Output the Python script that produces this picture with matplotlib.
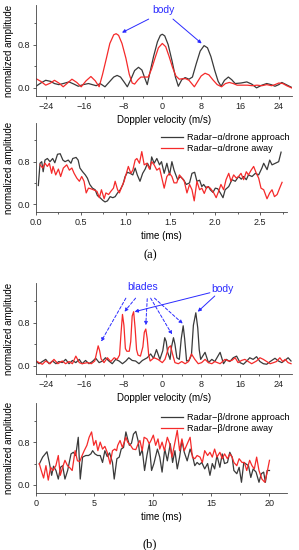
import numpy as np
import matplotlib
matplotlib.use("Agg")
import matplotlib.pyplot as plt
from matplotlib.ticker import MultipleLocator

plt.rcParams['font.family'] = ['Liberation Sans', 'DejaVu Sans']
plt.rcParams['font.size'] = 7

# ---- (a) Radar-alpha: Doppler spectrum ----
va_x = [-26.0, -25.0, -24.0, -23.0, -22.2, -21.3, -20.4, -19.5, -18.6, -17.6, -16.7, -15.7, -14.7,
        -13.8, -13.0, -12.3, -11.5, -10.8, -10.0, -9.5, -9.0, -8.3, -7.5, -6.8, -6.2, -5.7, -5.0,
        -4.4, -3.5, -2.9, -2.2, -1.5, -0.8, 0.0, 0.7, 1.4, 2.1, 2.8, 3.5, 4.2, 4.8, 5.5, 6.6, 7.3,
        8.0, 8.8, 9.6, 10.4, 11.3, 12.2, 13.0, 13.8, 14.6, 15.4, 16.5, 17.5, 18.5, 19.5, 20.5, 21.5,
        22.5, 23.2, 24.0, 24.8, 25.6, 26.6]
va_red = [0.17, 0.12, 0.05, 0.09, 0.14, 0.09, 0.02, 0.09, 0.16, 0.10, 0.02, 0.13, 0.21,
          0.13, 0.02, 0.25, 0.55, 0.82, 0.98, 1.0, 0.97, 0.82, 0.55, 0.25, 0.09, 0.07, 0.15,
          0.2, 0.2, 0.2, 0.35, 0.55, 0.74, 0.82, 0.76, 0.58, 0.38, 0.22, 0.16, 0.17, 0.17, 0.14,
          0.02, 0.12, 0.22, 0.27, 0.24, 0.15, 0.06, 0.02, 0.08, 0.1, 0.08, 0.05, 0.05, 0.05, 0.04,
          0.05, 0.04, 0.06, 0.04, 0.06, 0.09, 0.08, 0.04, 0.0]

vb_x = [-26.0, -25.0, -24.0, -23.0, -22.2, -21.3, -20.4, -19.2, -18.2, -17.3, -16.3, -15.2, -14.4,
        -13.6, -12.8, -12.3, -11.8, -11.0, -10.0, -9.3, -8.6, -7.8, -7.2, -6.5, -5.7, -4.9, -4.2,
        -3.6, -3.1, -2.5, -1.8, -1.0, -0.4, 0.0, 0.5, 1.2, 2.0, 2.7, 3.3, 4.0, 4.7, 5.5, 6.2, 7.0,
        7.8, 8.6, 9.3, 10.0, 10.8, 11.5, 12.1, 12.8, 13.6, 14.3, 15.0, 16.2, 17.4, 18.4, 19.4,
        20.5, 21.5, 22.4, 23.2, 24.0, 24.6, 25.5, 26.6]
va_black = [0.03, 0.09, 0.14, 0.12, 0.08, 0.06, 0.08, 0.11, 0.07, 0.03, 0.06, 0.08, 0.06,
            0.04, 0.08, 0.05, 0.02, 0.1, 0.2, 0.23, 0.2, 0.1, 0.02, 0.15, 0.32, 0.38, 0.33,
            0.18, 0.06, 0.3, 0.58, 0.85, 0.97, 0.99, 0.96, 0.8, 0.5, 0.2, 0.03, 0.15, 0.19, 0.16,
            0.2, 0.45, 0.68, 0.78, 0.74, 0.58, 0.32, 0.12, 0.03, 0.14, 0.2, 0.15, 0.08, 0.09,
            0.11, 0.07, 0.0, 0.05, 0.08, 0.06, 0.03, 0.06, 0.1, 0.06, 0.01]

# ---- (a) Radar-alpha: time series ----
ta_black = [0.026, 0.045, 0.064, 0.08, 0.10, 0.127, 0.156, 0.186, 0.21, 0.24, 0.27, 0.30, 0.324,
            0.36, 0.39, 0.41, 0.447, 0.47, 0.49, 0.52, 0.55, 0.573, 0.60, 0.63, 0.66, 0.685, 0.715,
            0.745, 0.77, 0.797, 0.827, 0.857, 0.883, 0.91, 0.94, 0.97, 0.994, 1.02, 1.05, 1.08,
            1.106, 1.13, 1.16, 1.19, 1.218, 1.244, 1.274, 1.29, 1.318, 1.348, 1.378, 1.40, 1.43,
            1.46, 1.49, 1.516, 1.54, 1.553, 1.58, 1.61, 1.646, 1.676, 1.713, 1.74, 1.77, 1.795,
            1.825, 1.85, 1.87, 1.90, 1.925, 1.944, 1.974, 2.0, 2.026, 2.056, 2.086, 2.11, 2.15,
            2.186, 2.223, 2.26, 2.29, 2.316, 2.346, 2.37, 2.41, 2.447, 2.484, 2.52, 2.54, 2.578,
            2.607, 2.633, 2.67, 2.707, 2.734]
a_black = [0.35, 0.77, 0.80, 0.61, 0.83, 0.86, 0.80, 0.86, 0.78, 0.94, 0.95, 0.83, 0.80,
           0.83, 0.77, 0.86, 0.88, 0.83, 0.68, 0.61, 0.55, 0.49, 0.37, 0.30, 0.27, 0.16, 0.12,
           0.07, 0.04, 0.06, 0.14, 0.12, 0.14, 0.21, 0.27, 0.37, 0.52, 0.60, 0.58, 0.55,
           0.68, 0.55, 0.43, 0.58, 0.66, 0.77, 0.66, 0.89, 0.77, 0.86, 0.74, 0.80, 0.58,
           0.77, 0.55, 0.80, 0.64, 0.58, 0.46, 0.52, 0.46, 0.37, 0.40, 0.58, 0.60, 0.43,
           0.45, 0.33, 0.37, 0.30, 0.33, 0.27, 0.22, 0.30, 0.29, 0.21, 0.12, 0.27, 0.33,
           0.46, 0.43, 0.52, 0.47, 0.52, 0.46, 0.55, 0.52, 0.58, 0.55, 0.68, 0.77, 0.65,
           0.83, 0.74, 0.77, 0.80, 0.98]

ta_red = [0.045, 0.075, 0.10, 0.127, 0.149, 0.175, 0.19, 0.22, 0.25, 0.275, 0.305, 0.343, 0.372,
          0.40, 0.425, 0.455, 0.484, 0.51, 0.536, 0.56, 0.585, 0.61, 0.64, 0.68, 0.707, 0.73,
          0.76, 0.78, 0.81, 0.835, 0.864, 0.883, 0.91, 0.93, 0.957, 0.983, 1.013, 1.03, 1.058,
          1.08, 1.106, 1.125, 1.154, 1.18, 1.207, 1.236, 1.266, 1.29, 1.318, 1.348, 1.378, 1.40,
          1.43, 1.46, 1.49, 1.516, 1.54, 1.57, 1.60, 1.628, 1.654, 1.684, 1.713, 1.74, 1.765,
          1.795, 1.825, 1.85, 1.877, 1.907, 1.944, 1.98, 2.01, 2.037, 2.063, 2.093, 2.12, 2.15,
          2.175, 2.205, 2.235, 2.26, 2.287, 2.316, 2.346, 2.37, 2.40, 2.428, 2.458, 2.484, 2.51,
          2.54, 2.577, 2.607, 2.633, 2.66, 2.69, 2.718, 2.745]
a_red = [0.74, 0.68, 0.77, 0.71, 0.77, 0.58, 0.71, 0.55, 0.66, 0.52, 0.68, 0.74, 0.64,
         0.68, 0.58, 0.49, 0.43, 0.52, 0.43, 0.21, 0.30, 0.29, 0.27, 0.24, 0.12, 0.27,
         0.10, 0.21, 0.18, 0.24, 0.30, 0.43, 0.27, 0.21, 0.33, 0.43, 0.61, 0.71, 0.58,
         0.64, 0.83, 0.86, 0.77, 0.99, 0.74, 0.77, 0.66, 0.80, 0.74, 0.64, 0.68, 0.52,
         0.30, 0.52, 0.58, 0.52, 0.40, 0.40, 0.55, 0.49, 0.43, 0.21, 0.37, 0.27, 0.06,
         0.43, 0.27, 0.30, 0.20, 0.33, 0.30, 0.22, 0.12, 0.24, 0.37, 0.27, 0.46, 0.58,
         0.43, 0.55, 0.49, 0.52, 0.58, 0.46, 0.61, 0.55, 0.64, 0.71, 0.58, 0.49, 0.30,
         0.27, 0.10, 0.21, 0.27, 0.14, 0.18, 0.30, 0.41]

# ---- (b) Radar-beta: Doppler spectrum ----
vr_x = [-26.1, -25.4, -24.7, -24.0, -23.1, -22.3, -21.5, -20.6, -19.9, -19.2, -18.5, -17.8, -17.1,
        -16.5, -15.4, -14.6, -13.9, -13.5, -13.2, -12.9, -12.6, -12.0, -11.3, -10.6, -9.9, -9.3,
        -8.8, -8.5, -8.2, -7.9, -7.6, -7.3, -6.8, -6.5, -6.2, -5.9, -5.6, -5.3, -5.0, -4.5, -4.0,
        -3.7, -3.4, -3.1, -2.8, -2.5, -1.7, -0.9, 0.0, 0.55, 1.0, 1.3, 1.7, 2.1, 2.6, 3.3, 4.0,
        4.7, 5.4, 6.0, 6.7, 7.4, 8.1, 8.8, 9.5, 10.2, 10.8, 11.9, 12.9, 13.6, 14.3, 15.0, 15.6,
        16.3, 17.0, 17.7, 18.4, 19.4, 20.1, 20.8, 21.5, 22.2, 22.9, 23.5, 24.2, 24.8, 25.3,
        25.9, 26.5]
vb_red = [0.10, 0.06, 0.03, 0.09, 0.04, 0.12, 0.04, 0.09, 0.04, 0.08, 0.04, 0.18, 0.06,
          0.04, 0.06, 0.04, 0.09, 0.25, 0.37, 0.28, 0.13, 0.06, 0.15, 0.08, 0.15, 0.12,
          0.2, 0.6, 0.95, 0.75, 0.32, 0.27, 0.27, 0.45, 0.92, 1.0, 0.7, 0.3, 0.2, 0.18, 0.35,
          0.62, 0.68, 0.5, 0.2, 0.09, 0.15, 0.12, 0.06, 0.12, 0.25, 0.34, 0.37, 0.22, 0.06, 0.04,
          0.08, 0.04, 0.08, 0.22, 0.12, 0.04, 0.06, 0.12, 0.06, 0.04, 0.08, 0.04, 0.12, 0.09,
          0.10, 0.15, 0.06, 0.10, 0.12, 0.08, 0.04, 0.09, 0.15, 0.12, 0.08, 0.04, 0.06, 0.08,
          0.15, 0.08, 0.12, 0.06, 0.04]

vk_x = [-26.1, -25.4, -24.7, -24.0, -23.3, -22.6, -21.9, -21.3, -20.6, -19.9, -19.2, -18.5, -17.8,
        -17.1, -16.5, -15.8, -15.1, -14.4, -13.7, -13.0, -12.3, -11.7, -11.0, -10.3, -9.6, -8.9,
        -8.2, -7.5, -6.9, -6.2, -5.5, -4.8, -4.1, -3.1, -2.4, -1.8, -1.2, -0.5, 0.1, 0.5, 0.8,
        1.1, 1.6, 1.9, 2.3, 2.6, 3.0, 3.5, 3.9, 4.3, 4.6, 5.0, 5.5, 6.0, 6.4, 6.9, 7.3, 7.6, 7.9,
        8.8, 9.5, 10.2, 10.8, 11.9, 12.6, 13.2, 13.9, 14.6, 15.3, 16.0, 16.7, 17.4, 18.0, 18.7,
        19.4, 20.1, 20.8, 21.5, 22.2, 23.2, 23.9, 24.6, 25.5, 25.9, 26.5]
vb_black = [0.09, 0.04, 0.08, 0.12, 0.04, 0.09, 0.04, 0.08, 0.06, 0.12, 0.04, 0.10, 0.06,
            0.12, 0.04, 0.10, 0.04, 0.08, 0.14, 0.06, 0.09, 0.15, 0.09, 0.04, 0.12, 0.09,
            0.04, 0.09, 0.15, 0.10, 0.09, 0.04, 0.10, 0.15, 0.22, 0.14, 0.30, 0.12, 0.28, 0.52,
            0.45, 0.25, 0.12, 0.35, 0.52, 0.40, 0.15, 0.12, 0.5, 0.74, 0.5, 0.09, 0.1, 0.2, 0.75,
            0.98, 0.7, 0.3, 0.12, 0.25, 0.06, 0.12, 0.08, 0.25, 0.04, 0.12, 0.08, 0.15, 0.18,
            0.06, 0.03, 0.09, 0.15, 0.12, 0.17, 0.08, 0.04, 0.03, 0.08, 0.14, 0.09, 0.06, 0.12,
            0.15, 0.09]

# ---- (b) Radar-beta: time series ----
tb_black = [0.28, 0.57, 0.94, 1.14, 1.34, 1.5, 1.71, 1.91, 2.1, 2.28, 2.48, 2.71, 3.0, 3.2, 3.4,
            3.62, 3.79, 3.99, 4.27, 4.5, 4.7, 4.85, 5.05, 5.27, 5.5, 5.7, 5.9, 6.1, 6.3, 6.55,
            6.7, 6.93, 7.13, 7.3, 7.5, 7.7, 7.85, 8.0, 8.18, 8.35, 8.55, 8.75, 8.9, 9.1, 9.3,
            9.5, 9.7, 9.9, 10.1, 10.4, 10.6, 10.8, 11.03, 11.25, 11.5, 11.7, 11.9, 12.1, 12.3,
            12.5, 12.7, 12.95, 13.2, 13.4, 13.6, 13.8, 14.0, 14.2, 14.45, 14.7, 14.9, 15.1, 15.3,
            15.5, 15.75, 15.95, 16.15, 16.4, 16.6, 16.8, 16.95, 17.2, 17.4, 17.6, 17.8, 18.0,
            18.2, 18.4, 18.6, 18.85, 19.1, 19.3, 19.5, 19.65, 19.8, 20.0]
b_black = [0.39, 0.52, 0.62, 0.42, 0.18, 0.35, 0.27, 0.11, 0.33, 0.36, 0.11, 0.27, 0.58, 0.61, 0.55,
           0.89, 0.11, 0.52, 0.55, 0.55, 0.58, 0.64, 0.58, 0.55, 0.55, 0.42, 0.64, 0.53, 0.6, 0.42,
           0.11, 0.49, 0.52, 0.67, 0.7, 0.99, 0.86, 0.74, 0.78, 0.95, 1.0, 0.82, 0.55, 0.66, 0.27,
           0.55, 0.77, 0.27, 0.4, 0.67, 0.52, 0.24, 0.67, 0.45, 0.77, 0.42, 0.64, 0.3, 0.52,
           0.83, 0.61, 0.45, 0.67, 0.55, 0.36, 0.42, 0.38, 0.42, 0.3, 0.4, 0.18, 0.4, 0.3,
           0.55, 0.33, 0.58, 0.4, 0.42, 0.61, 0.52, 0.27, 0.21, 0.33, 0.05, 0.42, 0.39,
           0.36, 0.14, 0.3, 0.24, 0.05, 0.21, 0.24, 0.05, 0.27, 0.27]

tb_red = [0.28, 0.45, 0.65, 0.85, 1.05, 1.25, 1.45, 1.7, 1.91, 2.08, 2.28, 2.48, 2.7, 2.9, 3.1,
          3.35, 3.55, 3.75, 3.95, 4.13, 4.36, 4.55, 4.76, 4.95, 5.13, 5.3, 5.5, 5.7, 5.9, 6.1,
          6.35, 6.55, 6.75, 6.9, 7.0, 7.2, 7.4, 7.7, 7.85, 8.1, 8.3, 8.55, 8.75, 8.9, 9.1, 9.26,
          9.5, 9.7, 9.85, 10.05, 10.25, 10.45, 10.6, 10.8, 11.0, 11.25, 11.45, 11.65, 11.85,
          12.1, 12.3, 12.5, 12.7, 12.9, 13.2, 13.4, 13.6, 13.8, 14.05, 14.25, 14.45, 14.7, 14.9,
          15.1, 15.3, 15.5, 15.75, 15.95, 16.15, 16.4, 16.6, 16.8, 16.95, 17.2, 17.4, 17.65,
          17.85, 18.05, 18.3, 18.5, 18.7, 18.9, 19.1, 19.35, 19.6, 19.8, 20.0]
b_red = [0.4, 0.27, 0.13, 0.36, 0.09, 0.33, 0.27, 0.36, 0.55, 0.18, 0.33, 0.46, 0.36, 0.32, 0.27,
         0.64, 0.45, 0.44, 0.55, 0.64, 0.74, 0.89, 0.99, 0.74, 0.83, 0.64, 0.8, 0.67, 0.72, 0.61,
         0.39, 0.64, 0.67, 0.64, 0.74, 0.83, 0.7, 0.89, 0.8, 0.74, 0.67, 0.66, 0.77, 0.83, 0.64, 0.89,
         0.86, 0.77, 0.83, 0.93, 0.74, 0.86, 0.67, 0.8, 0.64, 0.89, 0.77, 0.52, 0.74,
         1.02, 0.64, 0.86, 0.64, 0.74, 0.89, 0.52, 0.49, 0.55, 0.52, 0.42, 0.64, 0.55, 0.61,
         0.52, 0.67, 0.52, 0.61, 0.49, 0.58, 0.49, 0.58, 0.52, 0.42, 0.36, 0.49, 0.42,
         0.42, 0.27, 0.46, 0.36, 0.30, 0.52, 0.27, 0.11, 0.05, 0.24, 0.46]

blk = '#3a3a3a'
red = '#f52a2a'
blue = '#2a2aff'

fig = plt.figure(figsize=(2.99, 5.5), dpi=100)
L = 36 / 299
ax1 = fig.add_axes([L, 1 - 96 / 550, (292 - 36) / 299, 91 / 550])
ax2 = fig.add_axes([L, 1 - 212 / 550, (287 - 36) / 299, 89 / 550])
ax3 = fig.add_axes([L, 1 - 374 / 550, (292 - 36) / 299, 91 / 550])
ax4 = fig.add_axes([L, 1 - 493 / 550, (287 - 36) / 299, 90 / 550])


def style(ax):
    ax.patch.set_visible(False)
    for s in ['top', 'right']:
        ax.spines[s].set_visible(False)
    for s in ['left', 'bottom']:
        ax.spines[s].set_linewidth(0.6)
        ax.spines[s].set_color('#444444')
    ax.tick_params(which='both', direction='out', width=0.6, colors='#444444',
                   labelcolor='#222222', labelsize=6.5, pad=2)
    ax.tick_params(which='major', length=2.5)
    ax.tick_params(which='minor', length=1.5)
    ax.set_ylim(-0.15, 1.53)
    ax.yaxis.set_major_locator(MultipleLocator(0.8))
    ax.yaxis.set_minor_locator(MultipleLocator(0.4))
    ax.set_ylabel('normalized amplitude', labelpad=2)


for ax in [ax1, ax3]:
    style(ax)
    ax.set_xlim(-26, 26.7)
    ax.xaxis.set_major_locator(MultipleLocator(8))
    ax.xaxis.set_minor_locator(MultipleLocator(4))
    ax.set_xlabel('Doppler velocity (m/s)', labelpad=2.5)

style(ax2)
ax2.set_xlim(0, 2.8)
ax2.xaxis.set_major_locator(MultipleLocator(0.5))
ax2.xaxis.set_minor_locator(MultipleLocator(0.25))
ax2.set_xlabel('time (ms)', labelpad=3)

style(ax4)
ax4.set_xlim(0, 21.5)
ax4.xaxis.set_major_locator(MultipleLocator(5))
ax4.xaxis.set_minor_locator(MultipleLocator(2.5))
ax4.set_xlabel('time (ms)', labelpad=3)

lw = 0.9
ax1.plot(vb_x, va_black, color=blk, lw=lw)
ax1.plot(va_x, va_red, color=red, lw=lw)
ax2.plot(ta_black, a_black, color=blk, lw=lw, label='Radar\u2212\u03b1/drone approach')
ax2.plot(ta_red, a_red, color=red, lw=lw, label='Radar\u2212\u03b1/drone away')
ax3.plot(vk_x, vb_black, color=blk, lw=lw)
ax3.plot(vr_x, vb_red, color=red, lw=lw)
ax4.plot(tb_black, b_black, color=blk, lw=lw, label='Radar\u2212\u03b2/drone approach')
ax4.plot(tb_red, b_red, color=red, lw=lw, label='Radar\u2212\u03b2/drone away')

for ax in [ax2, ax4]:
    ax.legend(loc='upper left', bbox_to_anchor=(0.48, 0.94), frameon=False, fontsize=6.6,
              handlelength=2.4, handletextpad=0.4, borderpad=0, labelspacing=0.25)

# annotations (a)
ax1.text(0.2, 1.43, 'body', color=blue, ha='center', va='center', fontsize=7.5)
arr = dict(arrowstyle='-|>', color=blue, lw=0.7, mutation_scale=5, shrinkA=0, shrinkB=0)
ax1.annotate('', xy=(-8.3, 1.02), xytext=(-2.8, 1.27), arrowprops=arr)
ax1.annotate('', xy=(8.1, 0.82), xytext=(2.2, 1.27), arrowprops=arr)

# annotations (b)
ax3.text(-4.1, 1.45, 'blades', color=blue, ha='center', va='center', fontsize=7.5)
ax3.text(12.4, 1.42, 'body', color=blue, ha='center', va='center', fontsize=7.5)
darr = dict(arrowstyle='-|>', color=blue, lw=0.7, mutation_scale=5, shrinkA=0, shrinkB=0,
            linestyle=(0, (3, 2)))
blade_ends = [(-12.6, 0.45), (-7.8, 1.0), (-3.4, 0.75), (2.0, 0.58), (4.2, 0.78)]
blade_starts = [(-7.5, 1.25), (-5.5, 1.25), (-3.1, 1.24), (-2.4, 1.25), (-1.6, 1.25)]
for s, e in zip(blade_starts, blade_ends):
    ax3.annotate('', xy=e, xytext=s, arrowprops=darr)
ax3.annotate('', xy=(-5.7, 1.0), xytext=(9.8, 1.35), arrowprops=arr)
ax3.annotate('', xy=(7.3, 1.0), xytext=(10.8, 1.29), arrowprops=arr)

fig.text(150 / 299, 1 - 255 / 550, '(a)', ha='center', va='center',
         family='Liberation Serif', fontsize=9)
fig.text(150 / 299, 1 - 544 / 550, '(b)', ha='center', va='center',
         family='Liberation Serif', fontsize=9)

fig.savefig('out.png', dpi=100)
